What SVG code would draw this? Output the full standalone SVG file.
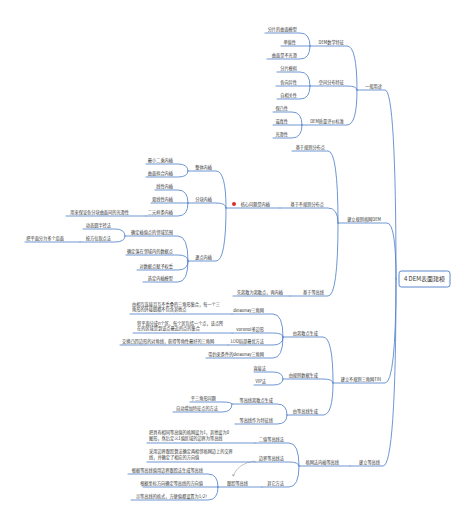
<svg xmlns="http://www.w3.org/2000/svg" width="474" height="526" viewBox="0 0 474 526">
<style>
.t{font-family:"Noto Sans CJK SC","Noto Sans",sans-serif;font-size:4.2px;fill:#333;text-anchor:end}
.s{text-anchor:start}
.c{fill:none;stroke:#4a7bc8;stroke-width:0.8;stroke-linecap:round}
.rel{fill:none;stroke:#888;stroke-width:0.5}
.root{font-family:"Noto Sans CJK SC","Noto Sans",sans-serif;font-size:6px;fill:#333;text-anchor:middle}
</style>
<defs>
<marker id="ah" viewBox="0 0 6 6" refX="5" refY="3" markerWidth="5" markerHeight="5" orient="auto"><path d="M0,0 L6,3 L0,6" fill="none" stroke="#777" stroke-width="0.9"/></marker>
</defs>
<rect width="474" height="526" fill="#fff"/>
<g id="connectors">
<path class="c" d="M357 90 L385 90 Q396 90 396 279"/>
<path class="c" d="M338 223 L387 223 Q396 223 396 279"/>
<path class="c" d="M333 383 L385 383 Q396 383 396 279"/>
<path class="c" d="M350 466 L383 466 Q396 466 396 279"/>
<path class="c" d="M310 46 L347 46 Q357 46 357 90"/>
<path class="c" d="M310 86 L347 86 Q357 86 357 90"/>
<path class="c" d="M302 125 L347 125 Q357 125 357 90"/>
<path class="c" d="M265 33 L300 33 Q310 33 310 46"/>
<path class="c" d="M281 46 L310 46"/>
<path class="c" d="M267 59 L300 59 Q310 59 310 46"/>
<path class="c" d="M277 72 L300 72 Q310 72 310 86"/>
<path class="c" d="M276 86 L310 86"/>
<path class="c" d="M277 99 L300 99 Q310 99 310 86"/>
<path class="c" d="M273 112 L292 112 Q302 112 302 125"/>
<path class="c" d="M273 125 L302 125"/>
<path class="c" d="M273 138 L292 138 Q302 138 302 125"/>
<path class="c" d="M292 151 L328 151 Q338 151 338 223"/>
<path class="c" d="M280 208 L328 208 Q338 208 338 223"/>
<path class="c" d="M290 296 L328 296 Q338 296 338 223"/>
<path class="c" d="M226 208 L280 208"/>
<path class="c" d="M233 296 L290 296"/>
<path class="c" d="M188 171 L216 171 Q226 171 226 208"/>
<path class="c" d="M188 203 L216 203 Q226 203 226 208"/>
<path class="c" d="M188 261 L216 261 Q226 261 226 208"/>
<path class="c" d="M146 164 L178 164 Q188 164 188 171"/>
<path class="c" d="M146 177 L178 177 Q188 177 188 171"/>
<path class="c" d="M155 190 L178 190 Q188 190 188 203"/>
<path class="c" d="M151 203 L188 203"/>
<path class="c" d="M146 216 L178 216 Q188 216 188 203"/>
<path class="c" d="M66 216 L146 216"/>
<path class="c" d="M125 236 L178 236 Q188 236 188 261"/>
<path class="c" d="M126 255 L178 255 Q188 255 188 261"/>
<path class="c" d="M137 270 L178 270 Q188 270 188 261"/>
<path class="c" d="M143 282 L178 282 Q188 282 188 261"/>
<path class="c" d="M83 229 L115 229 Q125 229 125 236"/>
<path class="c" d="M80 242 L115 242 Q125 242 125 236"/>
<path class="c" d="M25 242 L80 242"/>
<path class="c" d="M283 337 L323 337 Q333 337 333 383"/>
<path class="c" d="M283 379 L323 379 Q333 379 333 383"/>
<path class="c" d="M287 415 L323 415 Q333 415 333 383"/>
<path class="c" d="M232 314 L273 314 Q283 314 283 337"/>
<path class="c" d="M130 314 L232 314"/>
<path class="c" d="M232 333 L273 333 Q283 333 283 337"/>
<path class="c" d="M133 333 L232 333"/>
<path class="c" d="M228 345 L273 345 Q283 345 283 337"/>
<path class="c" d="M120 345 L228 345"/>
<path class="c" d="M206 358 L273 358 Q283 358 283 337"/>
<path class="c" d="M254 372 L273 372 Q283 372 283 379"/>
<path class="c" d="M254 385 L273 385 Q283 385 283 379"/>
<path class="c" d="M232 404 L277 404 Q287 404 287 415"/>
<path class="c" d="M235 424 L277 424 Q287 424 287 415"/>
<path class="c" d="M190 402 L222 402 Q232 402 232 404"/>
<path class="c" d="M173 412 L222 412 Q232 412 232 404"/>
<path class="c" d="M299 466 L350 466"/>
<path class="c" d="M255 443 L289 443 Q299 443 299 466"/>
<path class="c" d="M147 443 L255 443"/>
<path class="c" d="M255 462 L289 462 Q299 462 299 466"/>
<path class="c" d="M147 462 L255 462"/>
<path class="c" d="M262 487 L289 487 Q299 487 299 466"/>
<path class="c" d="M218 487 L262 487"/>
<path class="c" d="M128 474 L208 474 Q218 474 218 487"/>
<path class="c" d="M143 487 L218 487"/>
<path class="c" d="M131 500 L208 500 Q218 500 218 487"/>
<path class="rel" d="M255 461 Q238 463 233 476" marker-end="url(#ah)"/>
</g>
<g id="root"><rect x="399" y="271" width="51" height="16" rx="2.5" fill="#fff" stroke="#4a7bc8" stroke-width="0.9"/><text class="root" x="424.5" y="281.2">4 DEM表面建模</text></g>
<g id="n-yiban"><text class="t" x="382" y="87.5">一般用途</text></g>
<g id="n-guize"><text class="t" x="381" y="220.5">建立规则格网DEM</text></g>
<g id="n-tin"><text class="t" x="381" y="380.5">建立不规则三角网TIN</text></g>
<g id="n-dgx"><text class="t" x="380" y="463.5">建立等高线</text></g>
<g id="n-shuxue"><text class="t" x="344" y="43.5">DEM数学特征</text></g>
<g id="n-kongjian"><text class="t" x="344" y="83.5">空间分布特征</text></g>
<g id="n-zhiliang"><text class="t" x="344" y="122.5">DEM质量评价标准</text></g>
<g id="n-a1"><text class="t" x="297" y="30.5">分片的曲面模型</text></g>
<g id="n-a2"><text class="t" x="296" y="43.5">单值性</text></g>
<g id="n-a3"><text class="t" x="297" y="56.5">曲面是不光滑</text></g>
<g id="n-b1"><text class="t" x="297" y="69.5">分片模拟</text></g>
<g id="n-b2"><text class="t" x="297" y="83.5">各向异性</text></g>
<g id="n-b3"><text class="t" x="297" y="96.5">自相关性</text></g>
<g id="n-c1"><text class="t" x="288" y="109.5">保凸性</text></g>
<g id="n-c2"><text class="t" x="288" y="122.5">逼真性</text></g>
<g id="n-c3"><text class="t" x="288" y="135.5">光滑性</text></g>
<g id="n-gzfb"><text class="t" x="325" y="148.5">基于规则分布点</text></g>
<g id="n-bgzfb"><text class="t" x="324" y="205.5">基于不规则分布点</text></g>
<g id="n-jydgx"><text class="t" x="324" y="293.5">基于等高线</text></g>
<g id="n-hexin"><circle cx="234" cy="204" r="2" fill="#e02b2b"/><text class="t" x="270" y="205.5">核心问题是内插</text></g>
<g id="n-lisan"><text class="t" x="283" y="293.5">先离散为离散点，再内插</text></g>
<g id="n-zhengti"><text class="t" x="212" y="168.5">整体内插</text></g>
<g id="n-fenkuai"><text class="t" x="212" y="200.5">分块内插</text></g>
<g id="n-zhudian"><text class="t" x="212" y="258.5">逐点内插</text></g>
<g id="n-zt1"><text class="t" x="173" y="161.5">最小二乘内插</text></g>
<g id="n-zt2"><text class="t" x="173" y="174.5">曲面拟合内插</text></g>
<g id="n-fk1"><text class="t" x="173" y="187.5">线性内插</text></g>
<g id="n-fk2"><text class="t" x="173" y="200.5">双线性内插</text></g>
<g id="n-fk3"><text class="t" x="173" y="213.5">二元样条内插</text></g>
<g id="n-fk3a"><text class="t" x="129" y="213.5">用来保证各分块曲面间的光滑性</text></g>
<g id="n-zd1"><text class="t" x="173" y="233.5">确定插值点的邻域范围</text></g>
<g id="n-zd2"><text class="t" x="173" y="252.5">确定落在邻域内的数据点</text></g>
<g id="n-zd3"><text class="t" x="173" y="267.5">对数据点赋予权重</text></g>
<g id="n-zd4"><text class="t" x="173" y="279.5">选定内插模型</text></g>
<g id="n-zd1a"><text class="t" x="111" y="226.5">动态圆半径法</text></g>
<g id="n-zd1b"><text class="t" x="111" y="239.5">按方位取点法</text></g>
<g id="n-zd1b1"><text class="t" x="64" y="239.5">把平面分为多个扇面</text></g>
<g id="n-lsd"><text class="t" x="318" y="334.5">由离散点生成</text></g>
<g id="n-gzsj"><text class="t" x="318" y="376.5">由规则数据生成</text></g>
<g id="n-ydgx"><text class="t" x="318" y="412.5">由等高线生成</text></g>
<g id="n-del"><text class="t" x="264" y="311.5">delaunay三角网</text></g>
<g id="n-del1"><text class="t s" x="132" y="305.8">由相互连接且互不重叠的三角形集合，每一个三</text><text class="t s" x="132" y="311.2">角形的外接圆都不包含其他点</text></g>
<g id="n-vor"><text class="t" x="264" y="330.5">voronoi多边形</text></g>
<g id="n-vor1"><text class="t s" x="137" y="324.8">将平面分成n个区，每个区包括一个点，该点所</text><text class="t s" x="137" y="330.2">在的区域是到该点最近的点的集合</text></g>
<g id="n-lod"><text class="t" x="264" y="342.5">LOD局部最优方法</text></g>
<g id="n-lod1"><text class="t s" x="122" y="342.5">交换凸四边形的对角线，获得等角性最好的三角网</text></g>
<g id="n-ysdel"><text class="t" x="264" y="355.5">带约束条件的delaunay三角网</text></g>
<g id="n-zjf"><text class="t" x="266" y="369.5">直接法</text></g>
<g id="n-vip"><text class="t" x="266" y="382.5">VIP法</text></g>
<g id="n-dgxls"><text class="t" x="273" y="401.5">等高线离散点生成</text></g>
<g id="n-dgxtz"><text class="t" x="273" y="421.5">等高线作为特征线</text></g>
<g id="n-psj"><text class="t" x="216" y="399.5">平三角形问题</text></g>
<g id="n-zdzj"><text class="t" x="218" y="409.5">自动增加特征点的方法</text></g>
<g id="n-gwf"><text class="t" x="339" y="463.5">格网法内插等高线</text></g>
<g id="n-erzhi"><text class="t" x="284" y="440.5">二值等高线法</text></g>
<g id="n-erzhi1"><text class="t s" x="149" y="434.3">把具有相同等高值的格网设为1，其他设为0</text><text class="t s" x="149" y="439.8">图形，然后定义1值区域的边界为等高线</text></g>
<g id="n-bianjie"><text class="t" x="284" y="459.5">边界等高线法</text></g>
<g id="n-bianjie1"><text class="t s" x="149" y="453.3">采用边界跟踪算法确定两相邻格网边上的交界</text><text class="t s" x="149" y="458.8">线，并确定了相应的方向值</text></g>
<g id="n-qita"><text class="t" x="284" y="484.5">其它方法</text></g>
<g id="n-genzong"><text class="t" x="248" y="484.5">跟踪等高线</text></g>
<g id="n-gz1"><text class="t" x="203" y="471.5">根据等高线值用边界跟踪法生成等高线</text></g>
<g id="n-gz2"><text class="t" x="203" y="484.5">根据坐标方向确定等高线的方向值</text></g>
<g id="n-gz3"><text class="t" x="207" y="497.5">示等高线的格式，方便值都设置为1/2?</text></g>
</svg>
